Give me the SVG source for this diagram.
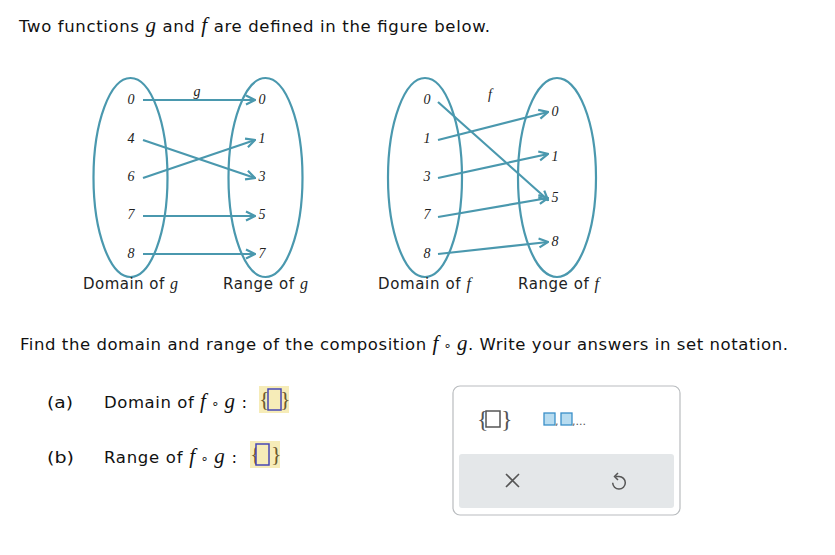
<svg xmlns="http://www.w3.org/2000/svg" width="835" height="555" viewBox="0 0 835 555">
<style>
.t{font-family:"DejaVu Sans",Verdana,sans-serif;font-size:16.5px;fill:#111}
.m{font-family:"Liberation Serif","Times New Roman",serif;font-style:italic}
.lab{font-family:"DejaVu Sans",Verdana,sans-serif;font-size:15px;fill:#222}
.num{font-family:"Liberation Serif","Times New Roman",serif;font-style:italic;font-size:14px;fill:#222}
.ell{fill:none;stroke:#4a98ae;stroke-width:2.2}
.arr{fill:none;stroke:#4a98ae;stroke-width:2.2;marker-end:url(#ah)}
.hl{fill:#f6ecb8}
.box{fill:#f6ecb8;stroke:#4747b5;stroke-width:1.5}
.br{font-family:"Liberation Serif",serif;font-size:22px;fill:#6b5a2e}
</style>
<defs>
<marker id="ah" markerUnits="userSpaceOnUse" viewBox="0 0 12 12" refX="11" refY="6" markerWidth="12" markerHeight="12" orient="auto">
<path d="M2,1.5 L11,6 L2,10.5" fill="none" stroke="#4a98ae" stroke-width="2.2" stroke-linejoin="miter"/>
</marker>
</defs>
<rect width="835" height="555" fill="#fff"/>

<text class="t" x="19" y="32" textLength="471" lengthAdjust="spacing">Two functions <tspan class="m" font-size="21">g</tspan> and <tspan class="m" font-size="21">f</tspan> are defined in the figure below.</text>

<g id="g-domain">
<ellipse class="ell" cx="130.5" cy="177.5" rx="37" ry="99.5"/>
<text class="num" x="131" y="104" text-anchor="middle">0</text>
<text class="num" x="131" y="143" text-anchor="middle">4</text>
<text class="num" x="131" y="181" text-anchor="middle">6</text>
<text class="num" x="131" y="219" text-anchor="middle">7</text>
<text class="num" x="131" y="258" text-anchor="middle">8</text>
<text class="lab" x="83" y="289" textLength="95" lengthAdjust="spacing">Domain of  <tspan class="m" font-size="16">g</tspan></text>
</g>
<g id="g-range">
<ellipse class="ell" cx="265.5" cy="177.5" rx="37" ry="99.5"/>
<text class="num" x="262" y="104" text-anchor="middle">0</text>
<text class="num" x="262" y="143" text-anchor="middle">1</text>
<text class="num" x="262" y="181" text-anchor="middle">3</text>
<text class="num" x="262" y="219" text-anchor="middle">5</text>
<text class="num" x="262" y="258" text-anchor="middle">7</text>
<text class="lab" x="223" y="289" textLength="85" lengthAdjust="spacing">Range of  <tspan class="m" font-size="16">g</tspan></text>
</g>
<text class="num" x="197" y="96" text-anchor="middle" font-size="15">g</text>

<g id="f-domain">
<ellipse class="ell" cx="425" cy="177.5" rx="37" ry="99.5"/>
<text class="num" x="427" y="104" text-anchor="middle">0</text>
<text class="num" x="427" y="143" text-anchor="middle">1</text>
<text class="num" x="427" y="181" text-anchor="middle">3</text>
<text class="num" x="427" y="219" text-anchor="middle">7</text>
<text class="num" x="427" y="258" text-anchor="middle">8</text>
<text class="lab" x="378" y="289" textLength="93" lengthAdjust="spacing">Domain of  <tspan class="m" font-size="16">f</tspan></text>
</g>
<g id="f-range">
<ellipse class="ell" cx="557" cy="177.5" rx="39" ry="99.5"/>
<text class="num" x="555" y="116" text-anchor="middle">0</text>
<text class="num" x="555" y="161" text-anchor="middle">1</text>
<text class="num" x="555" y="202" text-anchor="middle">5</text>
<text class="num" x="555" y="246" text-anchor="middle">8</text>
<text class="lab" x="518" y="289" textLength="81" lengthAdjust="spacing">Range of  <tspan class="m" font-size="16">f</tspan></text>
</g>
<text class="num" x="490" y="99" text-anchor="middle" font-size="15">f</text>

<g id="connectors">
<line class="arr" x1="143" y1="100" x2="255" y2="100"/>
<line class="arr" x1="143" y1="140" x2="255" y2="178"/>
<line class="arr" x1="143" y1="178" x2="255" y2="140"/>
<line class="arr" x1="143" y1="216" x2="255" y2="216"/>
<line class="arr" x1="143" y1="254" x2="255" y2="254"/>
<line class="arr" x1="438" y1="102" x2="548" y2="200"/>
<line class="arr" x1="438" y1="140" x2="548" y2="112"/>
<line class="arr" x1="438" y1="178" x2="548" y2="154"/>
<line class="arr" x1="438" y1="217" x2="548" y2="198"/>
<line class="arr" x1="438" y1="254" x2="548" y2="242"/>
</g>

<text class="t" x="20" y="350" textLength="768" lengthAdjust="spacing">Find the domain and range of the composition <tspan class="m" font-size="21">f</tspan><tspan font-size="13"> ∘ </tspan><tspan class="m" font-size="21">g</tspan>. Write your answers in set notation.</text>

<g id="qa">
<text class="t" x="47" y="408" textLength="26" lengthAdjust="spacingAndGlyphs">(a)</text>
<text class="t" x="104" y="408" textLength="143" lengthAdjust="spacing">Domain of <tspan class="m" font-size="21">f</tspan><tspan font-size="13"> ∘ </tspan><tspan class="m" font-size="21">g</tspan> :</text>
<rect class="hl" x="259" y="386" width="30" height="27"/>
<text class="br" x="259" y="406">{</text>
<text class="br" x="280" y="406">}</text>
<rect class="box" x="268" y="389" width="13" height="21"/>
</g>
<g id="qb">
<text class="t" x="47" y="463" textLength="27" lengthAdjust="spacingAndGlyphs">(b)</text>
<text class="t" x="104" y="463" textLength="133" lengthAdjust="spacing">Range of <tspan class="m" font-size="21">f</tspan><tspan font-size="13"> ∘ </tspan><tspan class="m" font-size="21">g</tspan> :</text>
<rect class="hl" x="250" y="441" width="30" height="27"/>
<text class="br" x="250" y="461">{</text>
<text class="br" x="271" y="461">}</text>
<rect class="box" x="256" y="444" width="13" height="21"/>
</g>

<g id="panel">
<rect x="453" y="386" width="227" height="129" rx="7" fill="#fff" stroke="#b9bcbf" stroke-width="1.2"/>
<rect x="459" y="454" width="215" height="54" rx="3" fill="#e4e7e9"/>
<text x="477" y="427" font-family="'Liberation Serif',serif" font-size="24" fill="#555">{</text>
<rect x="486" y="411" width="14" height="16" fill="#fff" stroke="#555" stroke-width="1.5"/>
<text x="501" y="427" font-family="'Liberation Serif',serif" font-size="24" fill="#555">}</text>
<rect x="544" y="413" width="11" height="12" fill="#b8dcf0" stroke="#3a8fc8" stroke-width="1.3"/>
<text x="555" y="425" font-family="'DejaVu Sans',sans-serif" font-size="11" fill="#555">,</text>
<rect x="561" y="413" width="11" height="12" fill="#b8dcf0" stroke="#3a8fc8" stroke-width="1.3"/>
<text x="572" y="425" font-family="'DejaVu Sans',sans-serif" font-size="11" fill="#555">,...</text>
<path d="M506,474 L519,487 M519,474 L506,487" stroke="#555" stroke-width="1.6" fill="none"/>
<path d="M615.5,476.5 L619,476.5 A6.3,6.3 0 1 1 612.7,482.8" stroke="#555" stroke-width="1.5" fill="none"/>
<path d="M618,473 L614.5,476.5 L618,480" stroke="#555" stroke-width="1.5" fill="none"/>
</g>
</svg>
